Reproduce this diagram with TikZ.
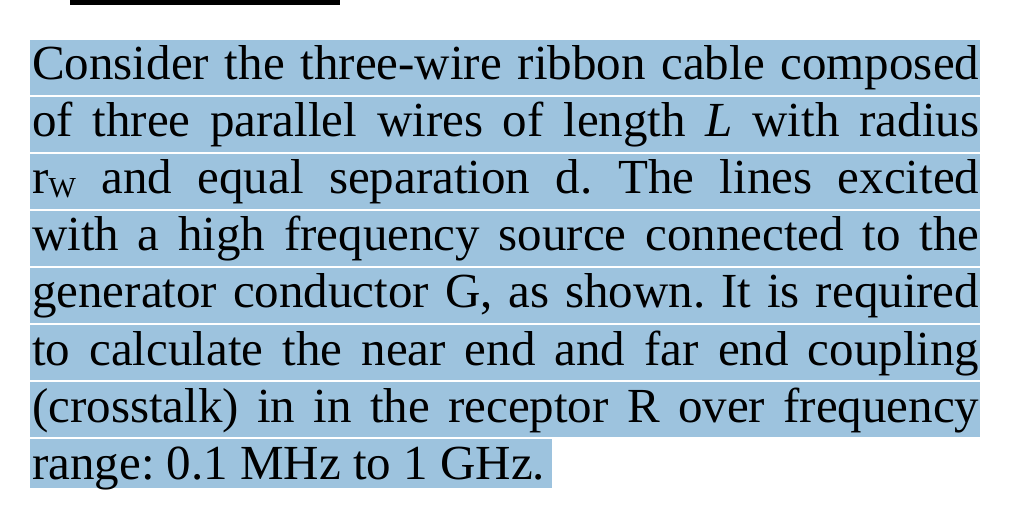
\documentclass[tikz,border=0pt]{standalone}
\usepackage{fontspec}
\setmainfont{Liberation Serif}
\definecolor{hl}{RGB}{157,195,222}
\frenchspacing
\begin{document}
\begin{tikzpicture}[x=1pt,y=1pt,
  ln/.style={anchor=base west,inner sep=0pt,font=\fontsize{49}{55}\selectfont}]
\useasboundingbox (0,0) rectangle (1024,-510);
\fill (70,0) rectangle (340,-5);
\foreach \i in {0,...,6} {\fill[hl] (30,{-40-57*\i}) rectangle (980,{-95-57*\i});}
\fill[hl] (30,-439) rectangle (552,-488);
\node[ln] (l1) at (32,-80) {\makebox[947pt][s]{Consider the three-wire ribbon cable composed}};
\node[ln] (l2) at (32,-137) {\makebox[947pt][s]{of three parallel wires of length \textit{L} with radius}};
\node[ln] (l3) at (32,-194) {\makebox[947pt][s]{r\raisebox{-4pt}{\fontsize{29}{32}\selectfont W} and equal separation d. The lines excited}};
\node[ln] (l4) at (32,-251) {\makebox[947pt][s]{with a high frequency source connected to the}};
\node[ln] (l5) at (32,-308) {\makebox[947pt][s]{generator conductor G, as shown. It is required}};
\node[ln] (l6) at (32,-365) {\makebox[947pt][s]{to calculate the near end and far end coupling}};
\node[ln] (l7) at (32,-422) {\makebox[947pt][s]{(crosstalk) in in the receptor R over frequency}};
\node[ln] (l8) at (32,-479) {range: 0.1 MHz to 1 GHz.};
\end{tikzpicture}
\end{document}
